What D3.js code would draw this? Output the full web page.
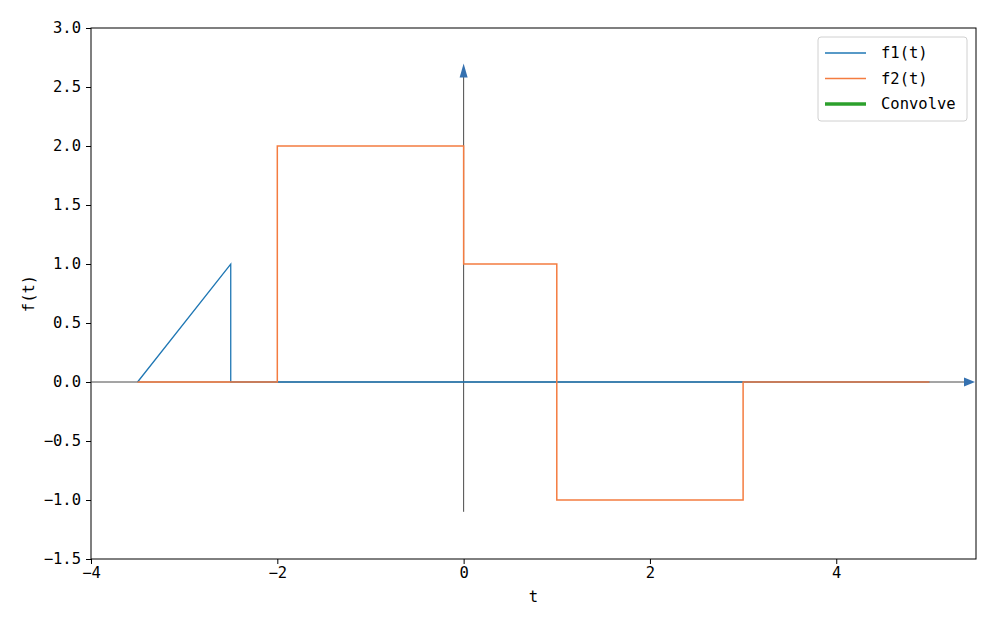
<!DOCTYPE html>
<html lang="en">
<head>
<meta charset="UTF-8">
<title>f1 f2 convolve</title>
<script src="https://d3js.org/d3.v7.min.js"></script>
<style>
    body { margin: 0; background: #fff; }
    text { font-family: "DejaVu Sans Mono", "Liberation Mono", monospace; font-size: 15.5px; fill: #000; }
    .domain, .tick line { stroke: #000; }
</style>
</head>
<body>
<div id="chart"></div>
<script>
    // datos
    const f1T = [-3.5, -2.5, -2.5, 5];
    const f1V = [0, 1, 0, 0];
    const f2T = [-3.5, -2, -2, 0, 0, 1, 1, 3, 3, 5];
    const f2V = [0, 0, 2, 2, 1, 1, -1, -1, 0, 0];
    const convT = [];   // la convolucion aun no se dibuja
    const convV = [];
    const xTicks = [-4, -2, 0, 2, 4];
    const yTicks = [-1.5, -1.0, -0.5, 0.0, 0.5, 1.0, 1.5, 2.0, 2.5, 3.0];
    const legendNames = ["f1(t)", "f2(t)", "Convolve"];
    const colors = ["#1f77b4", "#f47c40", "#2ca02c"];

    const width = 1000, height = 625;
    const mLeft = 91, mRight = 976, mTop = 28, mBottom = 559;

    const svg = d3.select("#chart").append("svg")
        .attr("width", width).attr("height", height);

    const x = d3.scaleLinear().domain([-4, 5.5]).range([mLeft, mRight]);
    const y = d3.scaleLinear().domain([-1.5, 3]).range([mBottom, mTop]);

    // marco
    svg.append("rect")
        .attr("x", mLeft).attr("y", mTop)
        .attr("width", mRight - mLeft).attr("height", mBottom - mTop)
        .attr("fill", "none").attr("stroke", "#000").attr("stroke-width", 1);

    const fmt = d => d3.format(".1f")(d).replace("-", "\u2212");
    svg.append("g")
        .attr("transform", `translate(0,${mBottom})`)
        .call(d3.axisBottom(x).tickValues(xTicks).tickSize(5).tickPadding(3)
            .tickFormat(d => String(d).replace("-", "\u2212")))
        .call(g => g.select(".domain").remove());
    svg.append("g")
        .attr("transform", `translate(${mLeft},0)`)
        .call(d3.axisLeft(y).tickValues(yTicks).tickSize(5).tickPadding(5).tickFormat(fmt))
        .call(g => g.select(".domain").remove());
    svg.selectAll(".tick text").style("font-size", "15.5px").attr("fill", "#000");

    svg.append("text").attr("x", (mLeft + mRight) / 2).attr("y", 602)
        .attr("text-anchor", "middle").text("t");
    svg.append("text")
        .attr("transform", `translate(34,${(mTop + mBottom) / 2}) rotate(-90)`)
        .attr("text-anchor", "middle").text("f(t)");

    // ejes con flechas
    const axisColor = "#4a4a4a";
    const headColor = "#3571b0";
    svg.append("line")
        .attr("x1", x(-4)).attr("y1", y(0)).attr("x2", x(5.38)).attr("y2", y(0))
        .attr("stroke", axisColor).attr("stroke-width", 1);
    svg.append("line")
        .attr("x1", x(0)).attr("y1", y(-1.1)).attr("x2", x(0)).attr("y2", y(2.6))
        .attr("stroke", axisColor).attr("stroke-width", 1);
    const hx = x(5.5), hy = y(0);
    svg.append("path")
        .attr("d", `M${hx - 1},${hy} L${hx - 12},${hy - 4.5} L${hx - 12},${hy + 4.5} Z`)
        .attr("fill", headColor);
    const vx = x(0), vy = y(2.7);
    svg.append("path")
        .attr("d", `M${vx},${vy} L${vx - 4},${vy + 14} L${vx + 4},${vy + 14} Z`)
        .attr("fill", headColor);

    const line = d3.line().x(d => x(d[0])).y(d => y(d[1]));
    const series = [
        { t: f1T, v: f1V, w: 1.3 },
        { t: f2T, v: f2V, w: 1.5 },
        { t: convT, v: convV, w: 3.5 }
    ];
    series.forEach((s, i) => {
        if (!s.t.length) return;
        svg.append("path")
            .datum(d3.zip(s.t, s.v))
            .attr("d", line)
            .attr("fill", "none")
            .attr("stroke", colors[i])
            .attr("stroke-width", s.w);
    });

    // leyenda
    const lg = svg.append("g");
    lg.append("rect")
        .attr("x", 818).attr("y", 37).attr("width", 149).attr("height", 84)
        .attr("rx", 3).attr("fill", "#fff").attr("fill-opacity", 0.8)
        .attr("stroke", "#d0d0d0");
    legendNames.forEach((name, i) => {
        const ly = 53 + i * 25.5;
        lg.append("line")
            .attr("x1", 825).attr("x2", 866).attr("y1", ly).attr("y2", ly)
            .attr("stroke", colors[i]).attr("stroke-width", series[i].w);
        lg.append("text").attr("x", 881).attr("y", ly).attr("dy", "0.35em").text(name);
    });
</script>
</body>
</html>
